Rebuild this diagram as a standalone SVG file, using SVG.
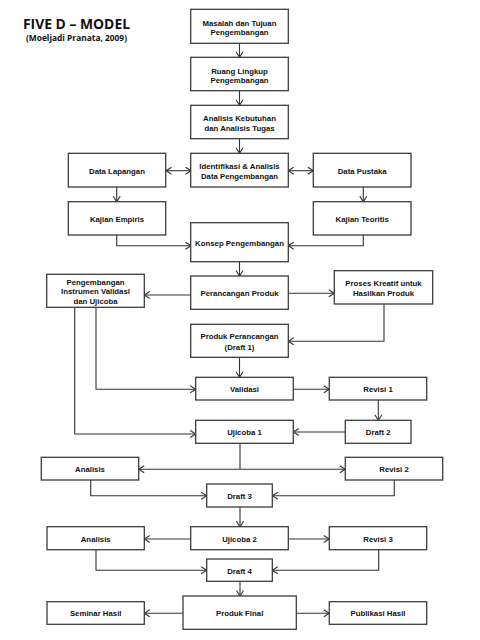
<svg xmlns="http://www.w3.org/2000/svg" width="480" height="640" viewBox="0 0 480 640">
<defs>
<marker id="ah" markerWidth="8" markerHeight="9" refX="6" refY="4" orient="auto-start-reverse" markerUnits="userSpaceOnUse">
<path d="M0.5,0.5 L6,4 L0.5,7.5" fill="none" stroke="#333" stroke-width="1.1"/>
</marker>
</defs>
<style>
.box{fill:#fff;stroke:#3c3c3c;stroke-width:1.3}
.t{font-family:"Liberation Sans",Arial,sans-serif;font-weight:bold;font-size:7.8px;fill:#111;text-anchor:middle}
.c{fill:none;stroke:#333;stroke-width:1.1;marker-end:url(#ah)}
.d{marker-start:url(#ah)}
</style>
<rect width="480" height="640" fill="#fff"/>
<g id="title">
<text x="76.5" y="28.5" font-family="Open Sans,Liberation Sans,sans-serif" font-weight="bold" font-size="15" text-anchor="middle" textLength="107" lengthAdjust="spacingAndGlyphs" fill="#111">FIVE D – MODEL</text>
<text x="76.5" y="41" font-family="Open Sans,Liberation Sans,sans-serif" font-weight="bold" font-size="9" text-anchor="middle" textLength="101" lengthAdjust="spacingAndGlyphs" fill="#111">(Moeljadi Pranata, 2009)</text>
</g>
<g id="connectors">
<path class="c" d="M239.5,43.3 V57.3"/>
<path class="c" d="M239.5,90.7 V105.3"/>
<path class="c" d="M239.5,138.7 V153.3"/>
<path class="c d" d="M166,170.7 H191"/>
<path class="c d" d="M288.3,170.7 H313.3"/>
<path class="c" d="M116.7,187 V201.7"/>
<path class="c" d="M363.3,187 V201.7"/>
<path class="c" d="M116.7,235 V245.7 H191"/>
<path class="c" d="M363.3,235 V245.7 H288.3"/>
<path class="c" d="M239.5,261.7 V276"/>
<path class="c" d="M191,295 H144.3"/>
<path class="c" d="M288.3,293.3 H334.3"/>
<path class="c" d="M384,304 V341.3 H288.3"/>
<path class="c" d="M239.5,357.3 V377.3"/>
<path class="c" d="M96,307.3 V389.3 H195.7"/>
<path class="c" d="M74.7,307.3 V434 H195.7"/>
<path class="c" d="M293.3,389.3 H329.3"/>
<path class="c" d="M378.3,400 V420.3"/>
<path class="c" d="M345.3,432 H293.3"/>
<path fill="none" stroke="#333" stroke-width="1.1" d="M240,443.3 V469.3"/>
<path class="c" d="M240,469.3 H138.7"/>
<path class="c" d="M240,469.3 H345.3"/>
<path class="c" d="M90.7,480 V495.7 H206.7"/>
<path class="c" d="M394.3,480 V495.7 H272.3"/>
<path class="c" d="M240,507 V526.7"/>
<path class="c" d="M190.7,539 H144.3"/>
<path class="c" d="M288.3,539 H329.3"/>
<path class="c" d="M96,549.7 V570.3 H206.7"/>
<path class="c" d="M378.7,549.7 V570.3 H272.3"/>
<path class="c" d="M240,581.3 V596"/>
<path class="c" d="M183,613.3 H144.3"/>
<path class="c" d="M296.3,613.3 H329.3"/>
</g>
<g id="n1"><rect class="box" x="190.7" y="9.3" width="97.6" height="34"/><text class="t" x="239.5" y="25.6">Masalah dan Tujuan</text><text class="t" x="239.5" y="35.2">Pengembangan</text></g>
<g id="n2"><rect class="box" x="190.7" y="57.3" width="97.6" height="33.4"/><text class="t" x="239.5" y="73.6">Ruang Lingkup</text><text class="t" x="239.5" y="82.9">Pengembangan</text></g>
<g id="n3"><rect class="box" x="190.7" y="105.3" width="97.6" height="33.4"/><text class="t" x="239.5" y="121.2">Analisis Kebutuhan</text><text class="t" x="239.5" y="130.6">dan Analisis Tugas</text></g>
<g id="n4"><rect class="box" x="68.3" y="153.3" width="97.4" height="33.7"/><text class="t" x="117" y="173.6">Data Lapangan</text></g>
<g id="n5"><rect class="box" x="190.7" y="153.3" width="97.6" height="33.7"/><text class="t" x="239.5" y="168.6">Identifikasi &amp; Analisis</text><text class="t" x="239.5" y="178.6">Data Pengembangan</text></g>
<g id="n6"><rect class="box" x="313.3" y="153.3" width="97.7" height="33.7"/><text class="t" x="362.2" y="173.6">Data Pustaka</text></g>
<g id="n7"><rect class="box" x="68.3" y="201.7" width="97.4" height="33.3"/><text class="t" x="117" y="221.9">Kajian Empiris</text></g>
<g id="n8"><rect class="box" x="313.3" y="201.7" width="97.7" height="33.3"/><text class="t" x="362.2" y="221.9">Kajian Teoritis</text></g>
<g id="n9"><rect class="box" x="190.7" y="222.7" width="97.6" height="39"/><text class="t" x="239.5" y="245.6">Konsep Pengembangan</text></g>
<g id="n10"><rect class="box" x="190.7" y="276" width="97.6" height="33.3"/><text class="t" x="239.5" y="296.2">Perancangan Produk</text></g>
<g id="n11"><rect class="box" x="46.7" y="274.3" width="97.6" height="33"/><text class="t" x="95.5" y="284.6">Pengembangan</text><text class="t" x="95.5" y="293.9">Instrumen Validasi</text><text class="t" x="95.5" y="303.6">dan Ujicoba</text></g>
<g id="n12"><rect class="box" x="334.3" y="270.7" width="98.4" height="33.3"/><text class="t" x="383.5" y="286.2">Proses Kreatif untuk</text><text class="t" x="383.5" y="295.6">Hasilkan Produk</text></g>
<g id="n13"><rect class="box" x="190.7" y="324.3" width="97.6" height="33"/><text class="t" x="239.5" y="338.9">Produk Perancangan</text><text class="t" x="239.5" y="349.5">(Draft 1)</text></g>
<g id="n14"><rect class="box" x="195.7" y="377.3" width="97.6" height="22.7"/><text class="t" x="244.5" y="391.9">Validasi</text></g>
<g id="n15"><rect class="box" x="329.3" y="377.3" width="97.4" height="22.7"/><text class="t" x="378" y="391.9">Revisi 1</text></g>
<g id="n16"><rect class="box" x="345.3" y="420.3" width="65.7" height="23"/><text class="t" x="378.2" y="434.6">Draft 2</text></g>
<g id="n17"><rect class="box" x="195.7" y="420.3" width="97.6" height="23"/><text class="t" x="244.5" y="434.6">Ujicoba 1</text></g>
<g id="n18"><rect class="box" x="41.3" y="457.3" width="97.4" height="22.7"/><text class="t" x="90" y="471.6">Analisis</text></g>
<g id="n19"><rect class="box" x="345.3" y="457.3" width="97.4" height="22.7"/><text class="t" x="394" y="471.6">Revisi 2</text></g>
<g id="n20"><rect class="box" x="206.7" y="484" width="65.6" height="23"/><text class="t" x="239.5" y="498.6">Draft 3</text></g>
<g id="n21"><rect class="box" x="190.7" y="526.7" width="97.6" height="23"/><text class="t" x="239.5" y="541.8">Ujicoba 2</text></g>
<g id="n22"><rect class="box" x="47" y="526.7" width="97.3" height="23"/><text class="t" x="95.7" y="541.8">Analisis</text></g>
<g id="n23"><rect class="box" x="329.3" y="526.7" width="97.4" height="23"/><text class="t" x="378" y="541.8">Revisi 3</text></g>
<g id="n24"><rect class="box" x="206.7" y="559" width="65.6" height="22.3"/><text class="t" x="239.5" y="573.6">Draft 4</text></g>
<g id="n25"><rect class="box" x="183" y="596" width="113.3" height="33.3"/><text class="t" x="239.7" y="616.2">Produk Final</text></g>
<g id="n26"><rect class="box" x="47" y="601.7" width="97.3" height="22.6"/><text class="t" x="95.7" y="616.2">Seminar Hasil</text></g>
<g id="n27"><rect class="box" x="329.3" y="601.7" width="97.4" height="22.6"/><text class="t" x="378" y="616.2">Publikasi Hasil</text></g>
</svg>
